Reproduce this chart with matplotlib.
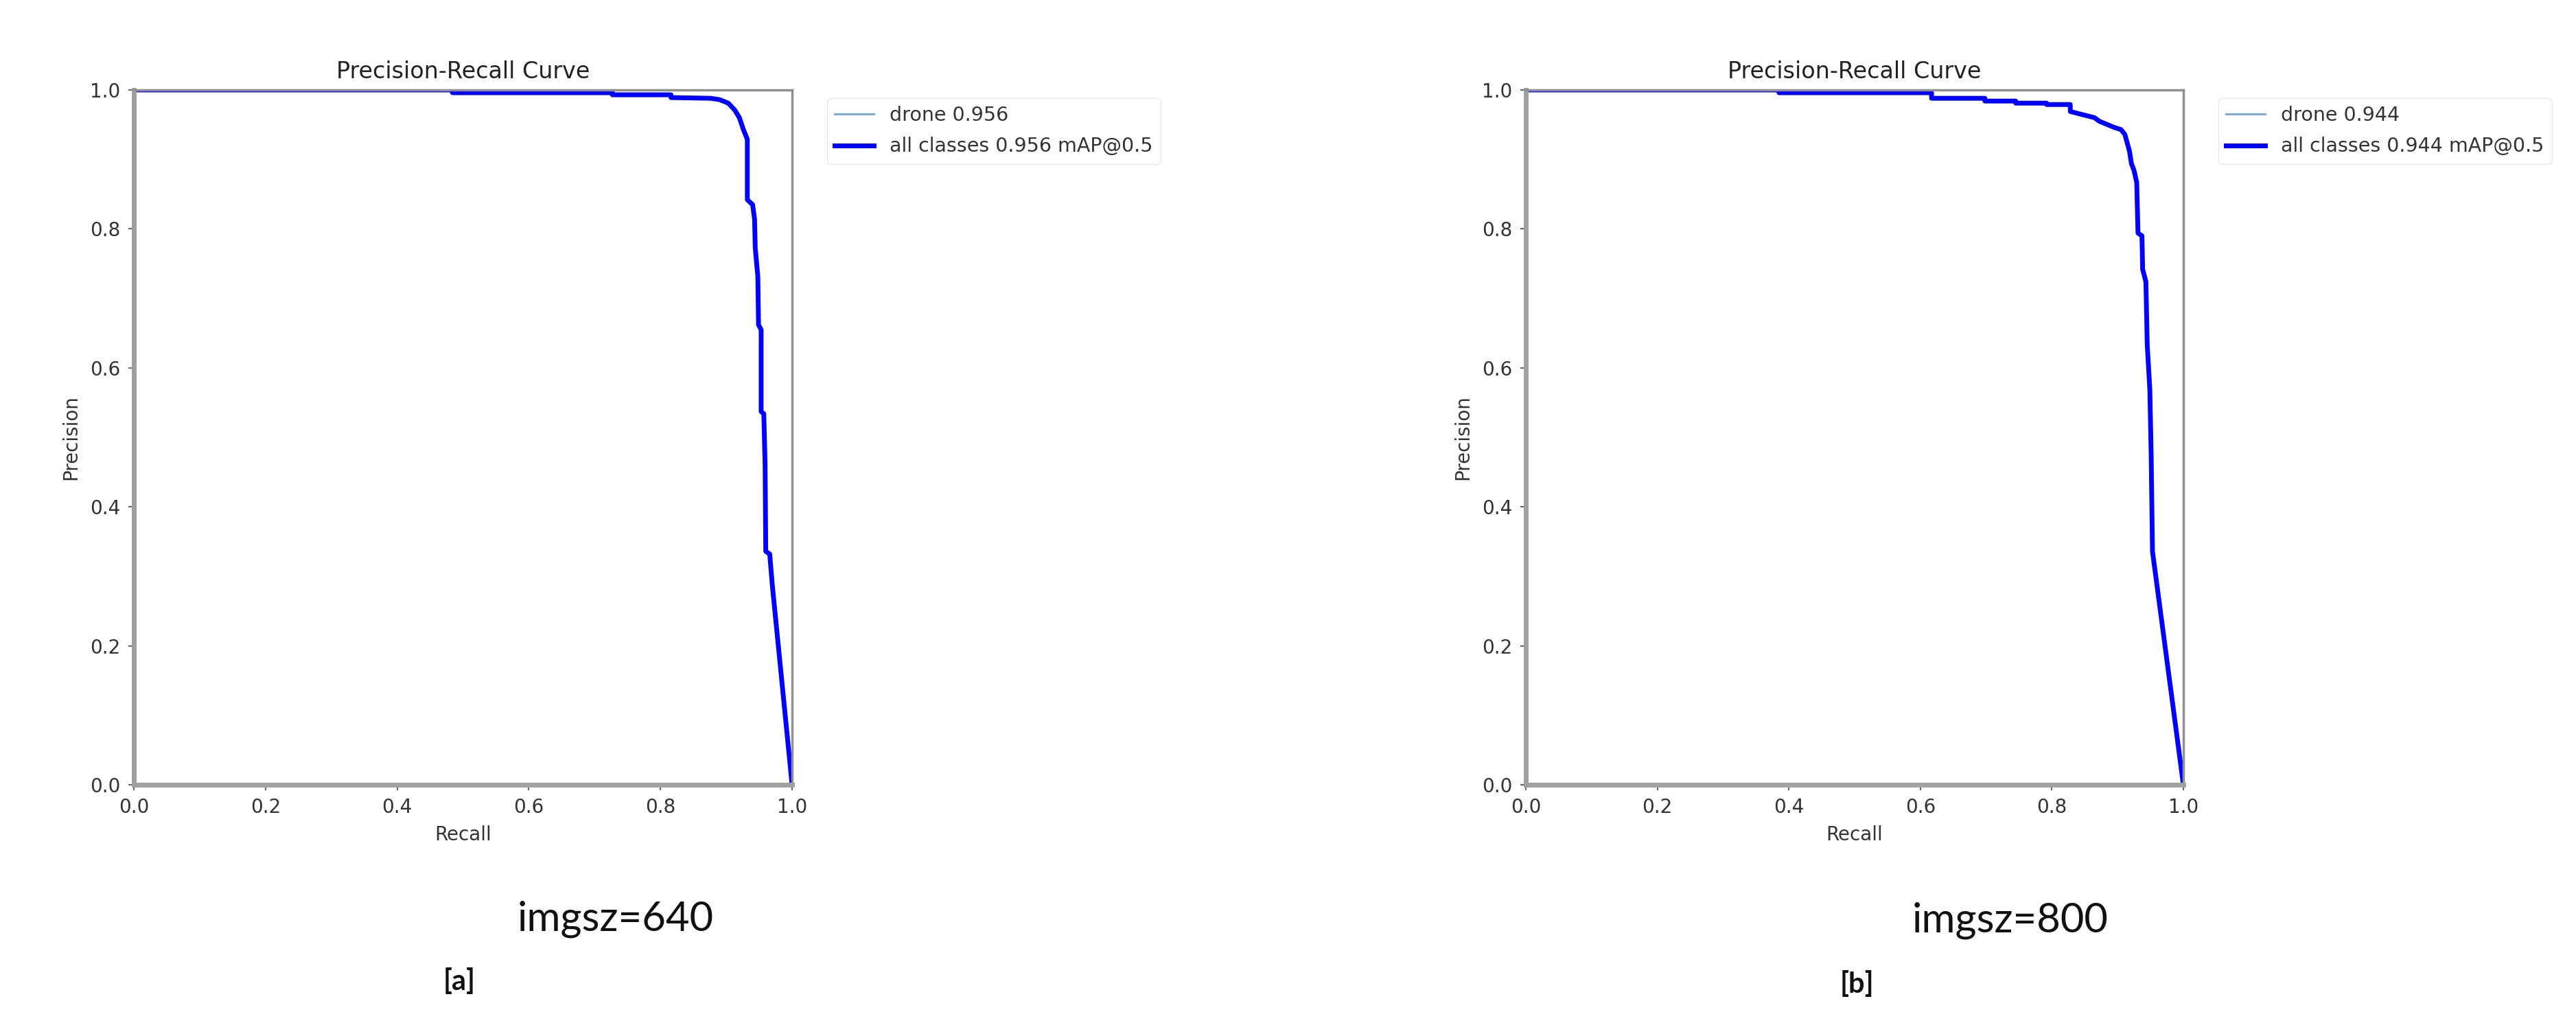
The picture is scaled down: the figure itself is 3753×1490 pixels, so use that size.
import numpy as np
import matplotlib.pyplot as plt

W, H, DPI = 3753, 1490, 100

# precision-recall curve, imgsz=640 (step corners included)
recall_640 = [0.0, 0.484, 0.484, 0.727, 0.727, 0.816, 0.816, 0.876, 0.890, 0.903,
              0.913, 0.920, 0.926, 0.932, 0.932, 0.940, 0.943, 0.944, 0.948, 0.949,
              0.953, 0.953, 0.957, 0.959, 0.960, 0.966, 0.970, 1.0]
precision_640 = [1.0, 1.0, 0.996, 0.996, 0.993, 0.993, 0.989, 0.988, 0.986, 0.981,
                 0.971, 0.960, 0.943, 0.929, 0.842, 0.835, 0.814, 0.773, 0.731, 0.662,
                 0.655, 0.537, 0.534, 0.461, 0.336, 0.332, 0.287, 0.0]
map_640 = 0.956

# precision-recall curve, imgsz=800
recall_800 = [0.0, 0.385, 0.385, 0.617, 0.617, 0.698, 0.698, 0.745, 0.745, 0.792,
              0.792, 0.828, 0.828, 0.865, 0.872, 0.895, 0.905, 0.911, 0.918, 0.921,
              0.925, 0.929, 0.931, 0.937, 0.938, 0.943, 0.945, 0.949, 0.951, 0.953, 1.0]
precision_800 = [1.0, 1.0, 0.996, 0.996, 0.988, 0.988, 0.984, 0.984, 0.981, 0.981,
                 0.979, 0.979, 0.969, 0.960, 0.955, 0.946, 0.943, 0.936, 0.912, 0.894,
                 0.884, 0.867, 0.794, 0.790, 0.742, 0.724, 0.634, 0.568, 0.475, 0.336, 0.0]
map_800 = 0.944

class_name = 'drone'
size_labels = ['imgsz=640', 'imgsz=800']
panel_tags = ['[a]', '[b]']


def px_rect(x0, y0, x1, y1):
    # pixel box (top-left origin) -> figure fraction rect
    return [x0 / W, 1 - y1 / H, (x1 - x0) / W, (y1 - y0) / H]


fig = plt.figure(figsize=(W / DPI, H / DPI), dpi=DPI)

panels = [
    (recall_640, precision_640, map_640, (195, 131, 1154, 1143), (897, 1355), (669, 1430)),
    (recall_800, precision_800, map_800, (2223, 131, 3181, 1143), (2929, 1357), (2705, 1433)),
]

text_gray = '#333333'
spine_gray = '#a0a0a0'

for i, (rec, prec, m, box, size_xy, tag_xy) in enumerate(panels):
    ax = fig.add_axes(px_rect(*box))
    ax.plot(rec, prec, lw=2.2, color='#7aaed6', label=f'{class_name} {m:.3f}')
    ax.plot(rec, prec, lw=5, color='blue', label=f'all classes {m:.3f} mAP@0.5')

    ax.set_xlim(0, 1)
    ax.set_ylim(0, 1)
    ax.set_xticks(np.arange(0, 1.01, 0.2))
    ax.set_yticks(np.arange(0, 1.01, 0.2))
    ax.tick_params(labelsize=20, labelcolor=text_gray, length=6, width=1.5,
                   color='#666666', pad=8)
    ax.set_xlabel('Recall', fontsize=20, color=text_gray, labelpad=8)
    ax.set_ylabel('Precision', fontsize=20, color=text_gray, labelpad=10)
    ax.set_title('Precision-Recall Curve', fontsize=24, color='#222222', pad=12)

    for side in ['left', 'bottom']:
        ax.spines[side].set_linewidth(5)
        ax.spines[side].set_color(spine_gray)
    for side in ['top', 'right']:
        ax.spines[side].set_linewidth(2.5)
        ax.spines[side].set_color('#909090')

    bw = box[2] - box[0]
    bh = box[3] - box[1]
    ax.legend(loc='upper left', bbox_to_anchor=(1 + 51 / bw, 1 - 12 / bh),
              borderaxespad=0, fontsize=20.5, frameon=True, edgecolor='#e3e3e3',
              labelcolor=text_gray, labelspacing=0.6)

    fig.text(size_xy[0] / W, 1 - size_xy[1] / H, size_labels[i], ha='center',
             va='baseline', fontsize=43, family='Lato', color='#111111')
    fig.text(tag_xy[0] / W, 1 - tag_xy[1] / H, panel_tags[i], ha='center',
             va='center', fontsize=30, family='Lato', fontweight='bold', color='#111111')

fig.savefig('out.png', dpi=DPI)
